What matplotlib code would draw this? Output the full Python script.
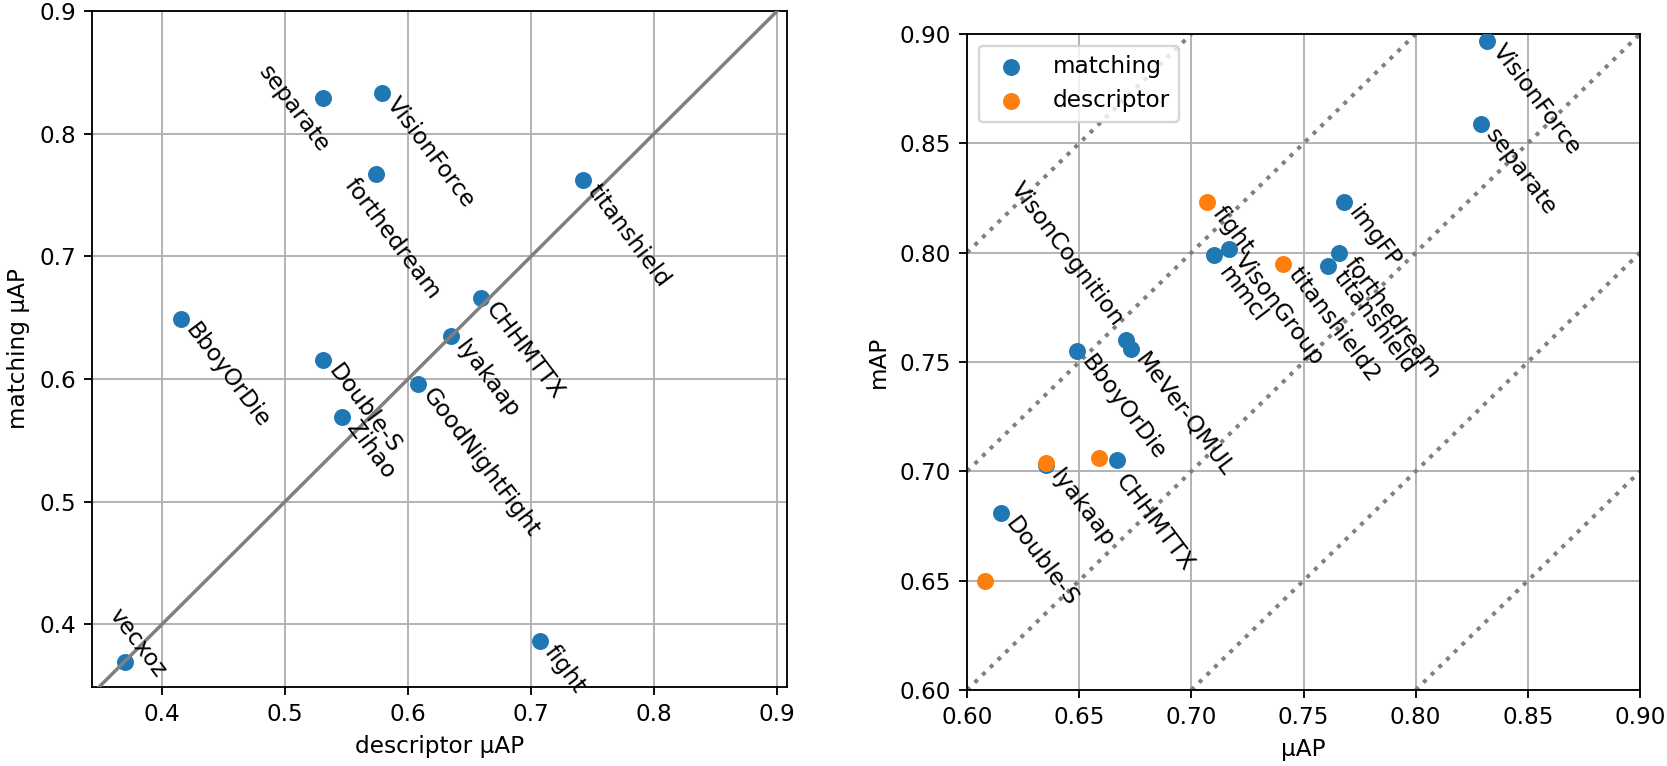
import numpy as np
import matplotlib
matplotlib.use('Agg')
from matplotlib import pyplot as plt

# left panel: descriptor vs matching track
teams = ['separate', 'VisionForce', 'forthedream', 'titanshield', 'CHHMTTX',
         'Iyakaap', 'BboyOrDie', 'Double-S', 'GoodNightFight', 'Zihao',
         'vecxoz', 'fight']
desc_uap = [0.531, 0.579, 0.574, 0.742, 0.659, 0.635, 0.415, 0.531, 0.608,
            0.546, 0.370, 0.707]
match_uap = [0.829, 0.833, 0.767, 0.762, 0.666, 0.635, 0.649, 0.615, 0.596,
             0.569, 0.369, 0.386]

# right panel: uAP vs mAP
match_names = ['VisionForce', 'separate', 'imgFP', 'forthedream', 'titanshield',
               'VisonGroup', 'mmcl', 'VisonCognition', 'MeVer-QMUL', 'BboyOrDie',
               'CHHMTTX', 'Iyakaap', 'Double-S']
match_x = [0.832, 0.829, 0.768, 0.766, 0.761, 0.717, 0.710, 0.671, 0.673, 0.649,
           0.667, 0.635, 0.615]
match_map = [0.897, 0.859, 0.823, 0.800, 0.794, 0.8015, 0.799, 0.760, 0.756,
             0.755, 0.705, 0.703, 0.681]
desc_names = ['fight', 'titanshield2', '', '', '']
desc_x = [0.707, 0.741, 0.635, 0.659, 0.608]
desc_map = [0.823, 0.795, 0.704, 0.706, 0.650]

# manual label nudges (points), like the original label placement
left_nudge = {'separate': (-30, 16), 'forthedream': (-16, 0), 'vecxoz': (-9, 25)}
right_nudge = {'VisonCognition': (-52, 70), 'CHHMTTX': (-3, -4), 'mmcl': (0, -3)}

ROT = -53
DPI = 166.7
plt.rcParams['font.size'] = 10

fig = plt.figure(figsize=(1667 / DPI, 766 / DPI), dpi=DPI)
ax1 = fig.add_axes([0.0552, 0.1031, 0.4169, 0.8825])
ax2 = fig.add_axes([0.5801, 0.0992, 0.4037, 0.8564])

ax1.grid(True)
ax1.scatter(desc_uap, match_uap, s=40, zorder=2.5)
ax1.axline((0.5, 0.5), slope=1, color='gray', lw=1.5, zorder=3)
for name, x, y in zip(teams, desc_uap, match_uap):
    ax1.annotate(name, (x, y), xytext=left_nudge.get(name, (0, 0)),
                 textcoords='offset points', rotation=ROT, ha='left', va='top')
ax1.set_xlim(0.343, 0.908)
ax1.set_ylim(0.3487, 0.9)
ax1.set_xlabel('descriptor µAP')
ax1.set_ylabel('matching µAP')

ax2.grid(True)
for c in [-0.2, -0.1, 0.0, 0.1, 0.2]:
    ax2.axline((0.6, 0.6 + c), slope=1, color='gray', ls=':', lw=1.75, zorder=1.8)
ax2.scatter(match_x, match_map, s=40, zorder=3, label='matching')
ax2.scatter(desc_x, desc_map, s=40, zorder=3, label='descriptor')
for name, x, y in zip(match_names, match_x, match_map):
    ax2.annotate(name, (x, y), xytext=right_nudge.get(name, (0, 0)),
                 textcoords='offset points', rotation=ROT, ha='left', va='top')
for name, x, y in zip(desc_names, desc_x, desc_map):
    if name:
        ax2.annotate(name, (x, y), xytext=(0, 0), textcoords='offset points',
                     rotation=ROT, ha='left', va='top')
ax2.set_xlim(0.6, 0.9)
ax2.set_ylim(0.6, 0.9)
ax2.set_xlabel('µAP')
ax2.set_ylabel('mAP')
ax2.legend(loc='upper left')

fig.savefig('out.png', dpi=DPI)
